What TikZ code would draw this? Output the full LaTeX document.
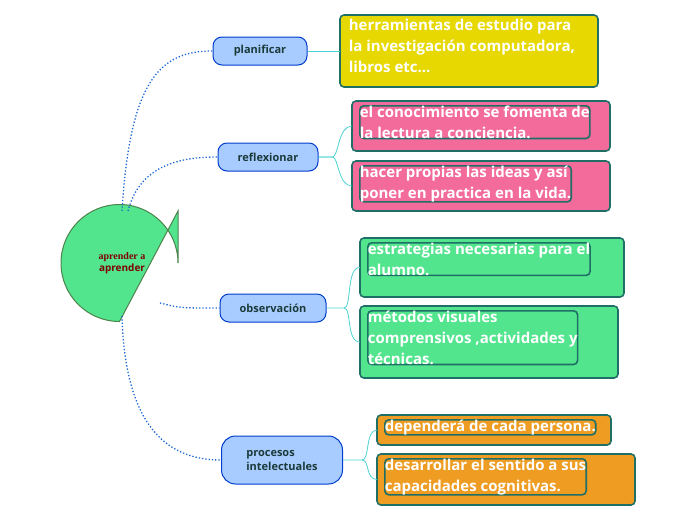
\documentclass[tikz,border=0pt]{standalone}
\usepackage{fontspec}
\setmainfont{Open Sans}
\begin{document}
\begin{tikzpicture}[x=1pt,y=-1pt,
  sub/.style={draw=blue!70!cyan!80!black,fill=bluef,line width=1pt,rounded corners=9pt,font=\fontsize{11}{14}\selectfont\bfseries,text=darkt},
  box/.style={draw=boxb,line width=1.6pt,rounded corners=4pt,anchor=north west,align=left,inner sep=0pt,font=\fontsize{15}{21}\selectfont\bfseries,text=white},
  main/.style={draw=mainl,line width=1.3pt,dotted},
  br/.style={draw=teal!50!cyan!70,line width=0.8pt}]
\definecolor{bluef}{HTML}{A8CCFF}
\definecolor{darkt}{HTML}{1B3A3A}
\definecolor{boxb}{HTML}{1F6F66}
\definecolor{mainl}{HTML}{1A66D4}
\definecolor{yel}{HTML}{E6D800}
\definecolor{pnk}{HTML}{F26B9A}
\definecolor{grn}{HTML}{52E58E}
\definecolor{org}{HTML}{EE9C22}
\useasboundingbox (0,0) rectangle (696,520);
% central
\fill[grn,draw=green!30!black!70,line width=1pt] (178,211) -- (178,263) arc[start angle=0,end angle=-270,radius=58.5] -- cycle;
\node[font=\fontsize{10}{12}\selectfont\bfseries\rmfamily,text=red!50!black,align=center] (c) at (122,263) {\fontspec{Liberation Serif}aprender a\\aprender};
\coordinate (ct1) at (122,211);
\coordinate (ct2) at (128,211);
\coordinate (cr) at (160,303);
\coordinate (cb) at (122,316);
\node[sub,minimum width=94pt,minimum height=28pt] (p) at (260,51) {planificar};
\node[sub,minimum width=100pt,minimum height=28pt] (r) at (268,157) {reflexionar};
\node[sub,minimum width=106pt,minimum height=28pt] (o) at (273,308) {observación};
\node[sub,minimum width=121pt,minimum height=48pt,align=left,rounded corners=14pt] (pi) at (282,460) {procesos\\intelectuales};
\draw[main] (ct1) .. controls (130,80) and (160,51) .. (p.west);
\draw[main] (ct2) .. controls (140,165) and (180,157) .. (r.west);
\draw[main] (cr) .. controls (180,308) .. (o.west);
\draw[main] (cb) .. controls (125,430) and (170,460) .. (pi.west);
% boxes
\fill[yel,rounded corners=4pt] (340,15) rectangle (598,87);
\draw[boxb,line width=1.6pt,rounded corners=4pt] (340,15) rectangle (598,87);
\node[box,draw=none] (y1) at (348,18) {herramientas de estudio para\\la investigación computadora,\\libros etc...};
\coordinate (y1w) at (340,51);
\draw[br] (p.east) -- (y1w);
\foreach \n/\c/\a/\b/\cc/\d/\t in {
 k1/pnk/352/101/610/151/{el conocimiento se fomenta de\\la lectura a conciencia.},
 k2/pnk/352/161/610/211/{hacer propias las ideas y así\\poner en practica en la vida.},
 g1/grn/360/238/624/297/{estrategias necesarias para el\\alumno.},
 g2/grn/360/306/618/378/{métodos visuales\\comprensivos ,actividades y\\técnicas.},
 o1/org/377/415/611/445/{dependerá de cada persona.},
 o2/org/377/454/635/505/{desarrollar el sentido a sus\\capacidades cognitivas.}}{
 \draw[boxb,fill=\c,line width=1.6pt,rounded corners=4pt] (\a,\b) rectangle (\cc,\d);
 \node[box] (\n) at (\a+7,\b+4) {\t};
 \coordinate (\n w) at (\a,{(\b+\d)/2});
}
\draw[br] (r.east) -- ++(14,0) .. controls +(6,0) and (338,126) .. (k1w);
\draw[br] (r.east) -- ++(14,0) .. controls +(6,0) and (338,186) .. (k2w);
\coordinate (ob) at (344,308);
\draw[br] (o.east) -- (ob) .. controls (352,308) and (346,267) .. (g1w);
\draw[br] (ob) .. controls (352,308) and (346,342) .. (g2w);
\coordinate (pb) at (362,460);
\draw[br] (pi.east) -- (pb) .. controls (370,460) and (365,430) .. (o1w);
\draw[br] (pb) .. controls (370,460) and (365,479) .. (o2w);
\end{tikzpicture}
\end{document}
